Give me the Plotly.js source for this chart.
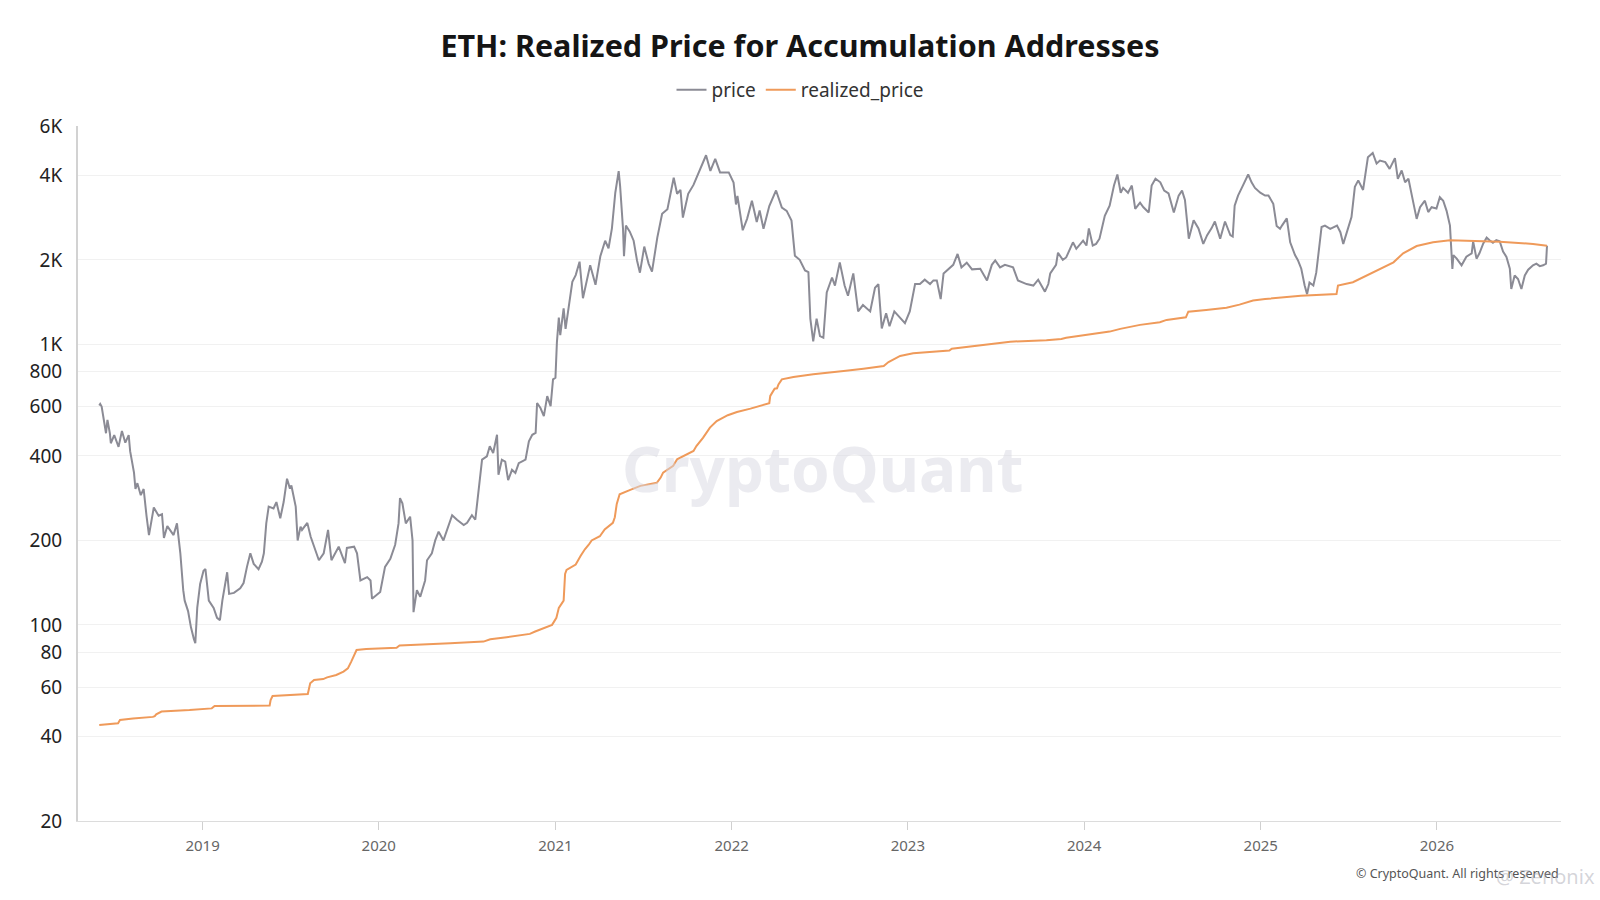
<!DOCTYPE html>
<html>
<head>
<meta charset="utf-8">
<script src="https://cdn.plot.ly/plotly-3.0.1.min.js"></script>
<style>
  html, body { margin: 0; padding: 0; background: #ffffff; }
  #chart { width: 1600px; height: 900px; }
</style>
</head>
<body>
<div id="chart"></div>
<script>
// ---------------- DATA ----------------
const priceDates = [
  '2018-06-01','2018-06-03','2018-06-06','2018-06-11','2018-06-15','2018-06-18','2018-06-23','2018-06-25','2018-07-02','2018-07-11','2018-07-18','2018-07-25','2018-08-01','2018-08-04','2018-08-12','2018-08-15','2018-08-19','2018-08-26','2018-09-01','2018-09-07','2018-09-12','2018-09-22','2018-10-02','2018-10-09','2018-10-13','2018-10-20','2018-11-02','2018-11-09','2018-11-16','2018-11-22','2018-11-25','2018-12-02','2018-12-08','2018-12-14','2018-12-17','2018-12-21','2018-12-27',
  '2019-01-03','2019-01-07','2019-01-14','2019-01-24','2019-01-31','2019-02-06','2019-02-11','2019-02-21','2019-02-25','2019-03-07','2019-03-20','2019-03-27','2019-04-03','2019-04-10','2019-04-17','2019-04-27','2019-05-04','2019-05-08','2019-05-13','2019-05-18','2019-05-28','2019-06-03','2019-06-11','2019-06-18','2019-06-25','2019-07-01','2019-07-04','2019-07-09','2019-07-13','2019-07-17','2019-07-23','2019-07-26','2019-08-06','2019-08-13','2019-08-20','2019-08-30','2019-09-09','2019-09-18','2019-09-25','2019-10-10','2019-10-23','2019-10-27','2019-11-11','2019-11-17','2019-11-24','2019-12-08','2019-12-15','2019-12-18',
  '2020-01-04','2020-01-14','2020-01-25','2020-02-04','2020-02-11','2020-02-14','2020-02-19','2020-02-26','2020-03-06','2020-03-11','2020-03-13','2020-03-20','2020-03-27','2020-04-06','2020-04-10','2020-04-20','2020-04-27','2020-05-04','2020-05-14','2020-05-21','2020-06-01','2020-06-11','2020-06-25','2020-07-02','2020-07-12','2020-07-19','2020-07-26','2020-08-02','2020-08-12','2020-08-18','2020-08-25','2020-09-02','2020-09-05','2020-09-12','2020-09-19','2020-09-25','2020-10-03','2020-10-10','2020-10-17','2020-10-24','2020-10-31','2020-11-07','2020-11-14','2020-11-21','2020-11-24','2020-12-01','2020-12-08','2020-12-15','2020-12-22','2020-12-27',
  '2021-01-01','2021-01-04','2021-01-08','2021-01-11','2021-01-18','2021-01-22','2021-01-29','2021-02-05','2021-02-12','2021-02-20','2021-02-27','2021-03-07','2021-03-14','2021-03-25','2021-04-04','2021-04-14','2021-04-21','2021-04-28','2021-05-05','2021-05-12','2021-05-15','2021-05-21','2021-05-23','2021-05-27','2021-06-04','2021-06-12','2021-06-19','2021-06-25','2021-07-04','2021-07-13','2021-07-20','2021-07-31','2021-08-10','2021-08-21','2021-09-03','2021-09-10','2021-09-17','2021-09-22','2021-10-03','2021-10-14','2021-10-28','2021-11-09','2021-11-18','2021-11-28','2021-12-08','2021-12-26',
  '2022-01-05','2022-01-10','2022-01-13','2022-01-24','2022-02-02','2022-02-12','2022-02-22','2022-02-28','2022-03-08','2022-03-20','2022-04-03','2022-04-15','2022-04-25','2022-05-05','2022-05-12','2022-05-22','2022-06-02','2022-06-09','2022-06-13','2022-06-19','2022-06-26','2022-07-03','2022-07-10','2022-07-17','2022-07-28','2022-08-03','2022-08-13','2022-08-23','2022-08-30','2022-09-10','2022-09-20','2022-09-30','2022-10-15','2022-10-25','2022-11-01','2022-11-08','2022-11-17','2022-11-24','2022-12-04','2022-12-14','2022-12-26',
  '2023-01-05','2023-01-16','2023-01-26','2023-02-05','2023-02-16','2023-02-23','2023-03-02','2023-03-10','2023-03-16','2023-03-26','2023-04-05','2023-04-14','2023-04-22','2023-05-03','2023-05-14','2023-05-31','2023-06-14','2023-06-24','2023-07-01','2023-07-11','2023-07-21','2023-08-07','2023-08-17','2023-09-04','2023-09-18','2023-09-28','2023-10-12','2023-10-19','2023-10-23','2023-11-04','2023-11-08','2023-11-18','2023-11-25','2023-12-09','2023-12-16','2023-12-30',
  '2024-01-06','2024-01-11','2024-01-19','2024-01-26','2024-02-02','2024-02-13','2024-02-23','2024-03-03','2024-03-10','2024-03-17','2024-03-22','2024-04-01','2024-04-09','2024-04-16','2024-04-26','2024-05-03','2024-05-14','2024-05-20','2024-05-28','2024-06-07','2024-06-15','2024-06-24','2024-07-05','2024-07-15','2024-07-22','2024-07-28','2024-08-05','2024-08-15','2024-08-25','2024-09-04','2024-09-12','2024-09-21','2024-09-28','2024-10-09','2024-10-19','2024-10-30','2024-11-04','2024-11-08','2024-11-15','2024-11-25','2024-12-06','2024-12-13','2024-12-20','2024-12-31',
  '2025-01-10','2025-01-17','2025-01-27','2025-02-03','2025-02-10','2025-02-14','2025-02-24','2025-03-03','2025-03-13','2025-03-19','2025-03-26','2025-04-02','2025-04-07','2025-04-12','2025-04-20','2025-04-26','2025-05-07','2025-05-14','2025-05-25','2025-06-08','2025-06-15','2025-06-21','2025-06-28','2025-07-08','2025-07-15','2025-07-22','2025-08-01','2025-08-11','2025-08-21','2025-08-29','2025-09-05','2025-09-16','2025-09-25','2025-10-06','2025-10-12','2025-10-20','2025-10-27','2025-11-03','2025-11-10','2025-11-20','2025-11-27','2025-12-07','2025-12-14','2025-12-21','2025-12-31',
  '2026-01-07','2026-01-14','2026-01-21','2026-01-28','2026-02-02','2026-02-04','2026-02-11','2026-02-21','2026-03-03','2026-03-14','2026-03-17','2026-03-24','2026-03-30','2026-04-07','2026-04-14','2026-04-20','2026-04-27','2026-05-04','2026-05-11','2026-05-18','2026-05-25','2026-06-01','2026-06-04','2026-06-11','2026-06-18','2026-06-25','2026-07-02','2026-07-09','2026-07-19','2026-07-26','2026-08-02','2026-08-09','2026-08-15','2026-08-17'
];
const priceValues = [
  605,613,600,524,482,538,482,444,475,431,491,446,475,416,349,305,320,290,305,244,209,262,245,248,204,225,209,230,180,133,122,112,98,89,86,115,140,
  156,158,122,115,106,104,122,154,129,130,135,141,161,180,165,158,168,180,230,264,260,274,240,274,332,306,314,288,264,200,224,218,231,206,190,170,180,218,170,190,166,188,190,180,144,148,144,124,
  131,161,172,193,230,283,271,230,243,200,111,133,126,144,170,180,200,215,200,218,246,237,227,231,246,237,311,388,399,433,410,476,343,388,382,328,357,348,377,382,388,451,476,483,618,593,555,654,602,750,
  760,1014,1245,1079,1343,1135,1400,1670,1765,1970,1460,1670,1915,1630,2060,2340,2200,2590,3470,4140,3660,2580,2060,2650,2520,2340,1990,1800,2230,1940,1815,2400,2920,3030,3925,3440,3550,2830,3440,3700,4200,4720,4150,4580,4100,4100,
  3770,3150,3380,2550,2800,3250,2730,3000,2580,3110,3535,3070,2990,2760,2070,2000,1834,1810,1235,1025,1235,1070,1055,1530,1730,1620,1960,1620,1490,1790,1310,1380,1310,1590,1640,1140,1290,1160,1310,1250,1190,
  1310,1640,1640,1700,1640,1690,1690,1450,1790,1850,1920,2100,1880,1955,1850,1860,1690,1920,1990,1880,1920,1880,1690,1640,1620,1700,1540,1640,1790,1920,2120,2000,2040,2310,2190,2340,
  2250,2590,2250,2280,2380,2870,3120,3680,4030,3470,3610,3470,3680,3040,3200,3080,2950,3680,3890,3780,3530,3450,2950,3390,3530,3270,2380,2770,2590,2280,2450,2590,2740,2380,2740,2450,2420,3120,3390,3680,4030,3780,3610,3470,
  3390,3390,3170,2640,2580,2650,2810,2310,2080,1995,1860,1620,1510,1660,1620,1800,2620,2650,2580,2650,2510,2280,2510,2840,3640,3840,3550,4640,4810,4410,4520,4460,4220,4610,3890,4165,3780,3890,3395,2800,3080,3250,2960,3080,3050,
  3345,3250,2990,2650,1858,2080,2020,1912,2053,2110,2325,2020,2110,2290,2400,2350,2300,2350,2330,2140,2050,1860,1574,1760,1710,1574,1760,1845,1912,1940,1900,1912,1940,2245
];

const realizedDates = [
  '2018-06-01','2018-06-20','2018-07-10','2018-07-14','2018-08-10','2018-09-20','2018-09-24','2018-09-27','2018-10-08','2018-12-05',
  '2019-01-20','2019-01-26','2019-05-20','2019-05-22','2019-05-26','2019-08-07','2019-08-12','2019-08-20','2019-09-08','2019-09-16','2019-10-05','2019-10-20','2019-10-29','2019-11-05','2019-11-16','2019-12-06',
  '2020-02-07','2020-02-13','2020-04-04','2020-05-28','2020-08-05','2020-08-19','2020-09-22','2020-11-09','2020-11-20','2020-12-25',
  '2021-01-03','2021-01-08','2021-01-18','2021-01-21','2021-01-24','2021-02-12','2021-02-22','2021-03-03','2021-03-11','2021-03-17','2021-04-03','2021-04-13','2021-04-30','2021-05-04','2021-05-08','2021-05-14','2021-06-05','2021-06-26','2021-07-30','2021-08-07','2021-08-12','2021-09-02','2021-09-10','2021-09-24','2021-10-14','2021-10-20','2021-11-03','2021-11-17','2021-12-01','2021-12-24',
  '2022-01-12','2022-02-09','2022-03-09','2022-03-20','2022-03-22','2022-03-31','2022-04-05','2022-04-08','2022-04-15','2022-05-09','2022-06-19','2022-07-24','2022-08-21','2022-10-01','2022-11-12','2022-11-22','2022-12-16',
  '2023-01-12','2023-02-16','2023-03-28','2023-04-02','2023-06-01','2023-08-01','2023-10-15','2023-11-15','2023-11-25',
  '2024-01-13','2024-02-23','2024-03-16','2024-04-26','2024-06-06','2024-06-20','2024-07-30','2024-08-04','2024-09-10','2024-10-22','2024-11-18','2024-12-16',
  '2025-01-10','2025-02-10','2025-03-25','2025-06-07','2025-06-10','2025-07-11','2025-08-08','2025-09-05','2025-10-03','2025-10-23','2025-11-20','2025-12-24',
  '2026-01-28','2026-03-03','2026-05-11','2026-07-19','2026-08-17'
];
const realizedValues = [
  44.0,44.3,44.6,45.8,46.4,47.0,47.3,48.0,49.1,49.7,
  50.4,51.4,51.6,54.0,55.8,56.7,61.9,63.6,64.1,65.0,66.3,68.2,70.0,74.0,81.4,82.1,
  82.9,84.4,85.0,86.0,87.2,88.9,90.4,92.9,94.7,100,
  106,115,122,152,157,164,176,186,193,200,207,219,231,242,270,292,303,313,321,335,349,369,389,400,417,434,465,505,533,559,
  574,590,607,617,655,695,697,720,750,765,782,792,803,819,837,865,909,
  929,939,950,965,990,1022,1035,1045,1056,
  1086,1110,1135,1173,1199,1222,1248,1307,1325,1350,1385,1433,
  1450,1467,1490,1510,1620,1665,1760,1860,1960,2110,2240,2310,
  2350,2340,2320,2280,2245
];

const yTickVals = [20, 40, 60, 80, 100, 200, 400, 600, 800, 1000, 2000, 4000, 6000];
const yTickText = ['20', '40', '60', '80', '100', '200', '400', '600', '800', '1K', '2K', '4K', '6K'];
const xTickVals = ['2019-01-01','2020-01-01','2021-01-01','2022-01-01','2023-01-01','2024-01-01','2025-01-01','2026-01-01'];
const xTickText = ['2019','2020','2021','2022','2023','2024','2025','2026'];

// ---------------- CHART ----------------
const FONT = '"Noto Sans", "Open Sans", Arial, sans-serif';

const traces = [
  {
    x: priceDates, y: priceValues, name: 'price', type: 'scatter', mode: 'lines',
    line: { color: '#8b8b95', width: 2 }
  },
  {
    x: realizedDates, y: realizedValues, name: 'realized_price', type: 'scatter', mode: 'lines',
    line: { color: '#ef9a5a', width: 2 }
  }
];

const layout = {
  width: 1600, height: 900,
  paper_bgcolor: '#ffffff', plot_bgcolor: '#ffffff',
  font: { family: FONT, color: '#333' },
  margin: { l: 78, r: 39, t: 126, b: 79 },
  title: {
    text: '<b>ETH: Realized Price for Accumulation Addresses</b>',
    x: 0.5, xanchor: 'center', y: 0.949, yanchor: 'middle',
    font: { family: FONT, size: 30.5, color: '#151515' }
  },
  showlegend: true,
  legend: {
    orientation: 'h', xref: 'container', yref: 'container',
    x: 0.5, xanchor: 'center', y: 0.9, yanchor: 'middle',
    font: { family: FONT, size: 19, color: '#333' },
    itemwidth: 30, bgcolor: 'rgba(0,0,0,0)'
  },
  xaxis: {
    type: 'date',
    range: ['2018-04-18', '2026-09-15'],
    tickmode: 'array', tickvals: xTickVals, ticktext: xTickText,
    showgrid: false, zeroline: false,
    showline: true, linecolor: '#dcdcdc', linewidth: 1,
    ticks: 'outside', ticklen: 8, tickcolor: '#d0d0d0', tickwidth: 1,
    ticklabelstandoff: 3,
    tickfont: { family: FONT, size: 15, color: '#666' }
  },
  yaxis: {
    type: 'log',
    range: [Math.log10(20), Math.log10(6000)],
    tickmode: 'array', tickvals: yTickVals, ticktext: yTickText,
    showgrid: true, gridcolor: '#f1f1f1', gridwidth: 1,
    zeroline: false,
    showline: true, linecolor: '#d2d2d2', linewidth: 2,
    ticks: '', ticklabelstandoff: 10,
    tickfont: { family: FONT, size: 19, color: '#222' }
  },
  annotations: [
    {
      text: '<b>CryptoQuant</b>', xref: 'paper', yref: 'paper', x: 0.502, y: 0.508,
      xanchor: 'center', yanchor: 'middle', showarrow: false,
      font: { family: FONT, size: 62, color: 'rgba(215,215,225,0.5)' }
    },
    {
      text: '© CryptoQuant. All rights reserved', xref: 'paper', yref: 'paper', x: 1, y: -0.076,
      xanchor: 'right', yanchor: 'middle', showarrow: false,
      font: { family: FONT, size: 12.5, color: '#555' }
    },
    {
      text: '@ Zenonix', xref: 'paper', yref: 'paper', x: 1.024, y: -0.08,
      xanchor: 'right', yanchor: 'middle', showarrow: false,
      font: { family: FONT, size: 20, color: 'rgba(160,160,172,0.45)' }
    }
  ]
};

Plotly.newPlot('chart', traces, layout, { displayModeBar: false, staticPlot: true });
</script>
</body>
</html>
